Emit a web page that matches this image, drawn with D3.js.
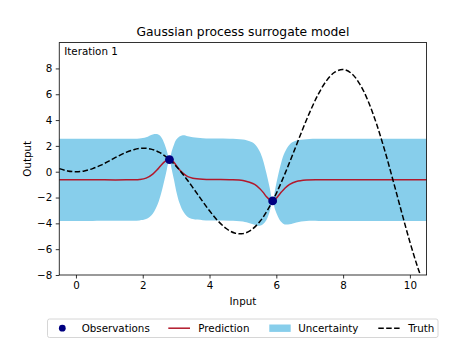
<!DOCTYPE html>
<html>
<head>
<meta charset="utf-8">
<script src="https://cdn.jsdelivr.net/npm/d3@7"></script>
<style>
  html, body { margin: 0; padding: 0; background: #fff; }
  svg { display: block; font-family: "DejaVu Sans", sans-serif; }
</style>
</head>
<body>
<svg id="chart" width="474" height="355"></svg>
<script>
// ---- data ----
const obsX = [2.8, 5.89];
const obsY = [0.94, -2.26];

const gridX = [-0.5, 0.5, 1.5, 1.9, 2.1, 2.3, 2.45, 2.55, 2.65, 2.72, 2.8, 2.87, 2.94, 3.0, 3.1, 3.2, 3.35, 3.5, 3.8, 4.2, 4.6, 5.0, 5.2, 5.35, 5.5, 5.6, 5.7, 5.8, 5.89, 5.97, 6.05, 6.15, 6.25, 6.4, 6.6, 6.9, 7.3, 8.0, 9.0, 10.5];
const predY = [-0.63, -0.63, -0.63, -0.6, -0.5, -0.18, 0.2, 0.5, 0.76, 0.89, 0.94, 0.88, 0.72, 0.5, 0.15, -0.1, -0.38, -0.5, -0.58, -0.6, -0.62, -0.68, -0.82, -0.98, -1.3, -1.58, -1.92, -2.16, -2.26, -2.14, -1.9, -1.58, -1.3, -0.98, -0.76, -0.65, -0.63, -0.63, -0.63, -0.63];
const upperY = [2.55, 2.55, 2.56, 2.57, 2.67, 2.89, 2.90, 2.69, 2.17, 1.62, 0.94, 1.61, 2.13, 2.47, 2.72, 2.82, 2.75, 2.67, 2.59, 2.57, 2.55, 2.49, 2.35, 2.14, 1.58, 0.91, -0.08, -1.22, -2.26, -1.30, -0.32, 0.74, 1.48, 2.11, 2.41, 2.52, 2.55, 2.55, 2.55, 2.55];
const lowerY = [-3.81, -3.81, -3.80, -3.77, -3.67, -3.25, -2.50, -1.69, -0.65, 0.16, 0.94, 0.15, -0.69, -1.47, -2.42, -3.02, -3.51, -3.67, -3.75, -3.77, -3.79, -3.85, -3.99, -4.10, -4.18, -4.07, -3.76, -3.10, -2.26, -2.98, -3.48, -3.90, -4.08, -4.07, -3.93, -3.82, -3.81, -3.81, -3.81, -3.81];

const truthX = [-0.5, -0.25, 0, 0.25, 0.5, 0.75, 1.0, 1.25, 1.5, 1.75, 2.0, 2.25, 2.5, 2.75, 3.0, 3.25, 3.5, 3.75, 4.0, 4.25, 4.5, 4.75, 5.0, 5.25, 5.5, 5.75, 6.0, 6.25, 6.5, 6.75, 7.0, 7.25, 7.5, 7.75, 8.0, 8.25, 8.5, 8.75, 9.0, 9.25, 9.5, 9.75, 10.0, 10.25, 10.5];
const truthY = [0.240, 0.062, 0, 0.062, 0.240, 0.511, 0.841, 1.186, 1.496, 1.722, 1.819, 1.751, 1.496, 1.050, 0.423, -0.352, -1.228, -2.144, -3.027, -3.804, -4.399, -4.747, -4.795, -4.509, -3.880, -2.923, -1.676, -0.207, 1.398, 3.038, 4.599, 5.968, 7.035, 7.708, 7.915, 7.613, 6.787, 5.466, 3.709, 1.612, -0.714, -3.115, -5.440, -7.530, -9.236];

const xTicks = [0, 2, 4, 6, 8, 10];
const yTicks = [-8, -6, -4, -2, 0, 2, 4, 6, 8];
const legendLabels = ["Observations", "Prediction", "Uncertainty", "Truth"];

// ---- layout ----
const svg = d3.select("#chart");
const L = 59.25, R = 426.6, T = 42.6, B = 275;
const x = d3.scaleLinear().domain([-0.5, 10.5]).range([L, R]);
const y = d3.scaleLinear().domain([-8, 10]).range([B, T]);
const fmt = d => d < 0 ? "\u2212" + Math.abs(d) : String(d);
const fs = 10.3;

svg.append("defs").append("clipPath").attr("id", "clip")
  .append("rect").attr("x", L).attr("y", T).attr("width", R - L).attr("height", B - T);

const plot = svg.append("g").attr("clip-path", "url(#clip)");

const band = gridX.map((v, i) => ({x: v, lo: lowerY[i], hi: upperY[i], m: predY[i]}));
const curve = d3.curveCatmullRom.alpha(0.5);

plot.append("path")
  .attr("d", d3.area().x(d => x(d.x)).y0(d => y(d.lo)).y1(d => y(d.hi)).curve(curve)(band))
  .attr("fill", "#87CEEB").attr("stroke", "none");

plot.append("path")
  .attr("d", d3.line().x(d => x(d.x)).y(d => y(d.m)).curve(curve)(band))
  .attr("fill", "none").attr("stroke", "#b2182b").attr("stroke-width", 1.5);

const truth = truthX.map((v, i) => ({x: v, y: truthY[i]}));
plot.append("path")
  .attr("d", d3.line().x(d => x(d.x)).y(d => y(d.y)).curve(curve)(truth))
  .attr("fill", "none").attr("stroke", "#000").attr("stroke-width", 1.5)
  .attr("stroke-dasharray", "5.5,2.4");

plot.selectAll("circle.obs").data(obsX.map((v, i) => ({x: v, y: obsY[i]})))
  .enter().append("circle").attr("class", "obs")
  .attr("cx", d => x(d.x)).attr("cy", d => y(d.y)).attr("r", 4.4)
  .attr("fill", "#000080");

// ---- axes ----
const xAxis = svg.append("g").attr("transform", `translate(0,${B})`)
  .call(d3.axisBottom(x).tickValues(xTicks).tickFormat(fmt).tickSize(3.5).tickPadding(3.5));
const yAxis = svg.append("g").attr("transform", `translate(${L},0)`)
  .call(d3.axisLeft(y).tickValues(yTicks).tickFormat(fmt).tickSize(3.5).tickPadding(3.5));
[xAxis, yAxis].forEach(g => {
  g.select(".domain").remove();
  g.selectAll("line").attr("stroke", "#000").attr("stroke-width", 0.8);
  g.selectAll("text").attr("font-size", fs).attr("font-family", "DejaVu Sans").attr("fill", "#000");
});

svg.append("rect").attr("x", L).attr("y", T).attr("width", R - L).attr("height", B - T)
  .attr("fill", "none").attr("stroke", "#000").attr("stroke-width", 0.8);

// ---- texts ----
svg.append("text").attr("x", (L + R) / 2).attr("y", 36).attr("text-anchor", "middle")
  .attr("font-size", 12.3).text("Gaussian process surrogate model");
svg.append("text").attr("x", L + 5).attr("y", T + 12).attr("font-size", fs)
  .text("Iteration 1");
svg.append("text").attr("x", (L + R) / 2).attr("y", 305).attr("text-anchor", "middle")
  .attr("font-size", fs).text("Input");
svg.append("text").attr("transform", `translate(31,${(T + B) / 2}) rotate(-90)`)
  .attr("text-anchor", "middle").attr("font-size", fs).text("Output");

// ---- legend ----
const lg = svg.append("g");
lg.append("rect").attr("x", 47.5).attr("y", 319).attr("width", 390.5).attr("height", 18.5)
  .attr("rx", 2).attr("fill", "#fff").attr("stroke", "#ccc").attr("stroke-width", 0.8);
const ly = 328.2;
lg.append("circle").attr("cx", 62.3).attr("cy", ly).attr("r", 3.4).attr("fill", "#000080");
lg.append("line").attr("x1", 168.3).attr("x2", 190).attr("y1", ly).attr("y2", ly)
  .attr("stroke", "#b2182b").attr("stroke-width", 1.5);
lg.append("rect").attr("x", 269.3).attr("y", ly - 3.7).attr("width", 21.4).attr("height", 7.4)
  .attr("fill", "#87CEEB");
lg.append("line").attr("x1", 378.3).attr("x2", 400).attr("y1", ly).attr("y2", ly)
  .attr("stroke", "#000").attr("stroke-width", 1.5).attr("stroke-dasharray", "5.5,2.4");
const lx = [81.7, 198.3, 298.3, 408.3];
legendLabels.forEach((t, i) => {
  lg.append("text").attr("x", lx[i]).attr("y", ly + 3.7).attr("font-size", fs).text(t);
});
</script>
</body>
</html>
